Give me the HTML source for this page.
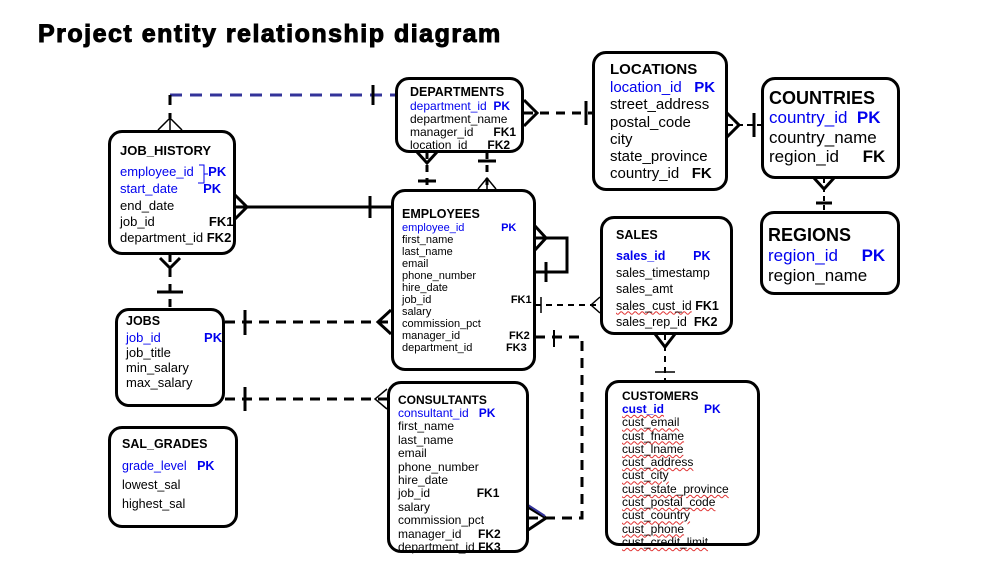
<!DOCTYPE html>
<html><head><meta charset="utf-8"><style>
body{margin:0;width:987px;height:571px;background:#fff;position:relative;overflow:hidden;font-family:"Liberation Sans",Arial,sans-serif;color:#000}
.b{position:absolute;border:3px solid #000;border-radius:14px;box-sizing:border-box;background:#fff}
.t{position:absolute;white-space:pre;line-height:1}
.bl{color:#0000ee}
.bd{font-weight:bold}
.u{text-decoration:underline wavy #e03030;text-decoration-thickness:1px}
svg{position:absolute;left:0;top:0}
</style></head><body>
<div class="t bd" style="left:38px;top:22px;font-size:25px;letter-spacing:1.5px;-webkit-text-stroke:1px #000">Project entity relationship diagram</div>

<svg width="987" height="571" viewBox="0 0 987 571">
<g fill="none" stroke="#000" stroke-width="3">
<path d="M170 95 H395" stroke="#333399" stroke-dasharray="12,8"/>
<path d="M170 95 V118" stroke-dasharray="10,8"/>
<path d="M373 85 V105"/>
<path d="M158 130 L170 118 L182 130 M170 118 V130" stroke-width="1.5"/>
<path d="M524 113 H592" stroke-dasharray="9,7"/>
<path d="M524 100 L537 113 L524 126"/>
<path d="M586 101 V125"/>
<path d="M727 125 H761" stroke-dasharray="6,4" stroke-width="2"/>
<path d="M727 113 L739 125 L727 137"/>
<path d="M754 113 V137"/>
<path d="M824 178 V211" stroke-dasharray="5,4" stroke-width="2"/>
<path d="M814 178 L824 189 L834 178"/>
<path d="M816 203 H832"/>
<path d="M427 152 V189" stroke-dasharray="7,6"/>
<path d="M417 152 L427 163 L437 152"/>
<path d="M418 181 H436"/>
<path d="M487 152 V189" stroke-dasharray="7,6"/>
<path d="M478 161 H496"/>
<path d="M478 189 L487 178 L496 189 M487 178 V189" stroke-width="1.5"/>
<path d="M235 207 H391"/>
<path d="M235 195 L247 207 L235 219"/>
<path d="M370 196 V218"/>
<path d="M170 254 V308" stroke-dasharray="8,7"/>
<path d="M160 258 L170 268 L180 258"/>
<path d="M157 292 H183"/>
<path d="M225 322 H391" stroke-dasharray="10,7"/>
<path d="M245 310 V335"/>
<path d="M391 310 L378 322 L391 334"/>
<path d="M225 399 H387" stroke-dasharray="10,7"/>
<path d="M245 387 V411"/>
<path d="M387 389 L375 399 L387 409" stroke-width="1.5"/>
<path d="M535 238 H567 V272 H535"/>
<path d="M535 226 L546 238 L535 250"/>
<path d="M546 262 V282"/>
<path d="M535 305 H600" stroke-dasharray="6,5" stroke-width="2"/>
<path d="M541 297 V313" stroke-width="1.5"/>
<path d="M600 297 L591 305 L600 313" stroke-width="1.5"/>
<path d="M535 337 H582 V518 H528" stroke-dasharray="10,7"/>
<path d="M554 330 V347" stroke-width="2"/>
<path d="M528 507 L546 518 L528 530"/>
<path d="M528 505 L545 516" stroke="#333399" stroke-width="2"/>
<path d="M665 334 V380" stroke-dasharray="6,5" stroke-width="2"/>
<path d="M655 334 L665 347 L675 334"/>
<path d="M655 372 H675" stroke-width="1.5"/>
</g>
</svg>

<div class="b" style="left:395px;top:77px;width:129px;height:76px"></div>
<div class="t bd" style="left:410px;top:86px;font-size:12.5px">DEPARTMENTS</div>
<div class="t" style="left:410px;top:100px;font-size:12px;line-height:13px"><span class="bl">department_id  <b>PK</b></span>
department_name
manager_id      <b>FK1</b>
location_id      <b>FK2</b></div>

<div class="b" style="left:592px;top:51px;width:136px;height:140px"></div>
<div class="t bd" style="left:610px;top:62px;font-size:15px">LOCATIONS</div>
<div class="t" style="left:610px;top:79px;font-size:15px;line-height:17.3px"><span class="bl">location_id   <b>PK</b></span>
street_address
postal_code
city
state_province
country_id   <b>FK</b></div>

<div class="b" style="left:761px;top:77px;width:139px;height:102px"></div>
<div class="t bd" style="left:769px;top:89px;font-size:18px">COUNTRIES</div>
<div class="t" style="left:769px;top:108px;font-size:17px;line-height:19.5px"><span class="bl">country_id  <b>PK</b></span>
country_name
region_id     <b>FK</b></div>

<div class="b" style="left:760px;top:211px;width:140px;height:84px"></div>
<div class="t bd" style="left:768px;top:226px;font-size:18px">REGIONS</div>
<div class="t" style="left:768px;top:246px;font-size:17px;line-height:19.5px"><span class="bl">region_id     <b>PK</b></span>
region_name</div>

<div class="b" style="left:108px;top:130px;width:128px;height:125px"></div>
<div class="t bd" style="left:120px;top:144px;font-size:13px">JOB_HISTORY</div>
<div class="t" style="left:120px;top:163px;font-size:13px;line-height:17px"><span class="bl">employee_id    <b>PK</b></span>
<span class="bl">start_date       <b>PK</b></span></div>
<svg width="987" height="571" style="pointer-events:none"><path d="M199 165 H204 V183 H198 M204 174 H208" fill="none" stroke="#0000ee" stroke-width="1"/></svg>
<div class="t" style="left:120px;top:198px;font-size:13px;line-height:16px">end_date
job_id               <b>FK1</b>
department_id <b>FK2</b></div>

<div class="b" style="left:391px;top:189px;width:145px;height:182px"></div>
<div class="t bd" style="left:402px;top:208px;font-size:12.5px">EMPLOYEES</div>
<div class="t" style="left:402px;top:222px;font-size:11px;line-height:12px"><span class="bl">employee_id            <b>PK</b></span>
first_name
last_name
email
phone_number
hire_date
job_id                          <b>FK1</b>
salary
commission_pct
manager_id                <b>FK2</b>
department_id           <b>FK3</b></div>

<div class="b" style="left:600px;top:216px;width:133px;height:119px"></div>
<div class="t bd" style="left:616px;top:229px;font-size:12.5px">SALES</div>
<div class="t" style="left:616px;top:248px;font-size:12.5px;line-height:16.5px"><span class="bl"><b>sales_id        PK</b></span>
sales_timestamp
sales_amt
<span class="u">sales_cust_id</span> <b>FK1</b>
sales_rep_id  <b>FK2</b></div>

<div class="b" style="left:115px;top:308px;width:110px;height:99px"></div>
<div class="t bd" style="left:126px;top:315px;font-size:12.5px">JOBS</div>
<div class="t" style="left:126px;top:330px;font-size:13px;line-height:15px"><span class="bl">job_id            <b>PK</b></span>
job_title
min_salary
max_salary</div>

<div class="b" style="left:108px;top:426px;width:130px;height:102px"></div>
<div class="t bd" style="left:122px;top:438px;font-size:12.5px">SAL_GRADES</div>
<div class="t" style="left:122px;top:457px;font-size:12.5px;line-height:19px"><span class="bl">grade_level   <b>PK</b></span>
lowest_sal
highest_sal</div>

<div class="b" style="left:387px;top:381px;width:142px;height:172px"></div>
<div class="t bd" style="left:398px;top:394px;font-size:12px">CONSULTANTS</div>
<div class="t" style="left:398px;top:407px;font-size:12px;line-height:13.4px"><span class="bl">consultant_id   <b>PK</b></span>
first_name
last_name
email
phone_number
hire_date
job_id              <b>FK1</b>
salary
commission_pct
manager_id     <b>FK2</b>
department_id <b>FK3</b></div>

<div class="b" style="left:605px;top:380px;width:155px;height:166px"></div>
<div class="t bd" style="left:622px;top:390px;font-size:12px">CUSTOMERS</div>
<div class="t" style="left:622px;top:403px;font-size:12px;line-height:13.3px"><span class="bl bd u">cust_id</span>            <span class="bl bd">PK</span>
<span class="u">cust_email</span>
<span class="u">cust_fname</span>
<span class="u">cust_lname</span>
<span class="u">cust_address</span>
<span class="u">cust_city</span>
<span class="u">cust_state_province</span>
<span class="u">cust_postal_code</span>
<span class="u">cust_country</span>
<span class="u">cust_phone</span>
<span class="u">cust_credit_limit</span></div>
</body></html>
